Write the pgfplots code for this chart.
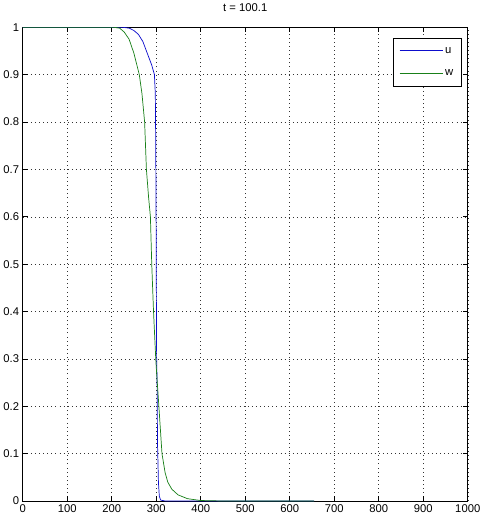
\documentclass[border=0pt]{standalone}
\usepackage{pgfplots}
\pgfplotsset{compat=1.18}
\usepackage{fontspec}
\setmainfont{Liberation Sans}

\definecolor{ublue}{rgb}{0.05,0.05,0.8}
\definecolor{wgreen}{rgb}{0.1,0.5,0.1}

\begin{document}
\begin{tikzpicture}
\begin{axis}[
    scale only axis,
    width=435pt,
    height=463pt,
    xmin=0, xmax=1000,
    ymin=0, ymax=1,
    xtick={0,100,...,1000},
    ytick={0,0.1,...,1},
    /pgf/number format/1000 sep={},
    /pgf/number format/assume math mode=true,
    tick align=inside,
    major tick length=5pt,
    tick style={black, line width=0.6pt},
    axis line style={line width=0.8pt},
    xmajorgrids, ymajorgrids,
    grid style={black!80, line width=0.5pt, dash pattern=on 0.7pt off 3.3pt},
    ticklabel style={font=\fontsize{11}{13}\selectfont},
    title={t = 100.1},
    title style={font=\fontsize{11}{13}\selectfont, yshift=6pt},
    legend style={at={(rel axis cs:0.986,0.978)}, anchor=north east,
        font=\fontsize{11}{13}\selectfont,
        inner xsep=6pt, inner ysep=7pt, row sep=11pt},
    legend cell align=left,
    legend image code/.code={\draw[#1] (0pt,0pt) -- (42pt,0pt);},
]
\addplot[color=ublue, line width=0.7pt] coordinates {
    (0,1) (225,1) (240,0.998) (250,0.993) (260,0.985) (270,0.97)
    (280,0.945) (290,0.92) (296,0.90) (298,0.86) (299,0.75) (300,0.55)
    (300.5,0.40) (301,0.30) (302,0.25) (303,0.12) (305,0.04) (307,0.01)
    (310,0.002) (320,0) (655,0)
};
\addlegendentry{u}
\addplot[color=wgreen, line width=0.7pt] coordinates {
    (0,1) (205,1) (218,0.998) (228,0.99) (239,0.975) (250,0.945)
    (262,0.90) (268,0.86) (274,0.80) (278,0.70) (283,0.64) (287,0.60)
    (290,0.50) (294,0.40) (299,0.30) (301,0.27) (306,0.20) (313,0.10)
    (320,0.06) (326,0.04) (335,0.025) (349,0.013) (370,0.005) (400,0.001)
    (450,0) (655,0)
};
\addlegendentry{w}
\end{axis}
\end{tikzpicture}
\end{document}
